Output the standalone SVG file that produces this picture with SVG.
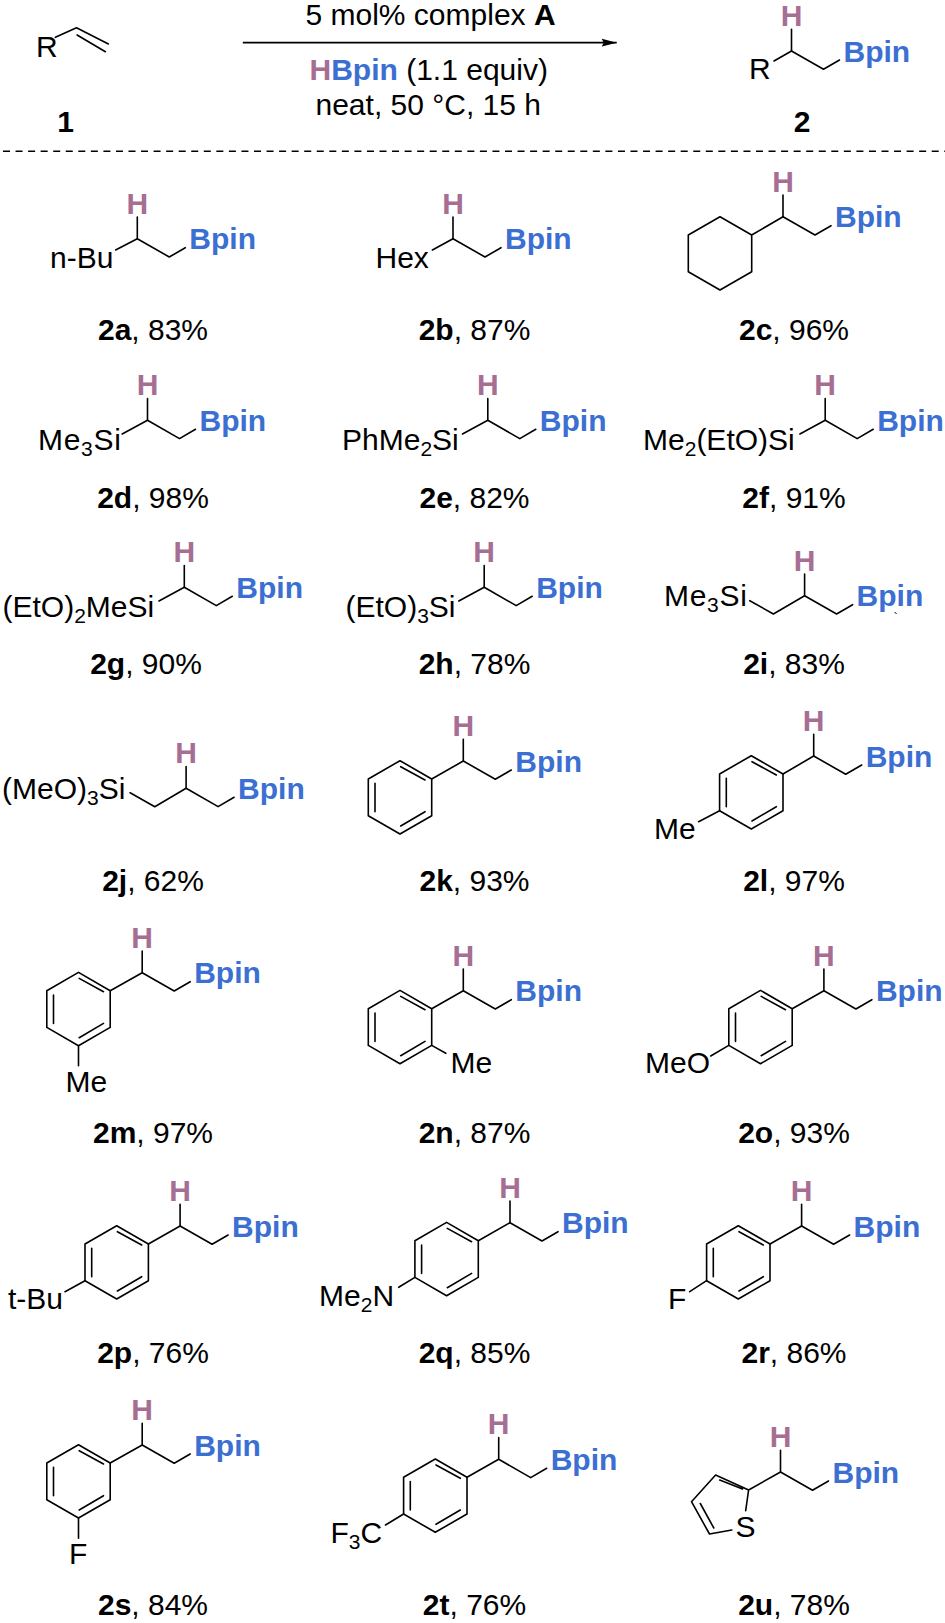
<svg xmlns="http://www.w3.org/2000/svg" width="945" height="1623" viewBox="0 0 945 1623">
<style>
text{font-family:"Liberation Sans",Arial,sans-serif;font-size:30px;fill:#000}
.h{font-weight:700;fill:#A76E93;text-anchor:middle}
.b{font-weight:700;fill:#3B6FD2}
.l{text-anchor:middle}
.w{font-weight:700}
.s{font-size:21px}
.bd,.bd path{fill:none;stroke:#000;stroke-width:1.6;stroke-linecap:round;stroke-linejoin:round}
.ls{letter-spacing:.7px}
</style>
<defs>
<g id="m" class="bd"><path d="M0 0V-21.7M0 0L32 18.3L48 9"/></g>
<g id="ph" class="bd"><path d="M0 0L-31.7 -18.3L-63.4 0V36.7L-31.7 55L0 36.7ZM-6.7 1L-31 -12.3M-56.7 4.3V32.7M-31 47L-6.7 32.7"/></g>
<marker id="ah" markerUnits="userSpaceOnUse" markerWidth="16" markerHeight="10" refX="15" refY="5" orient="auto"><path d="M0 1L15 5L0 9L2 5Z" fill="#000"/></marker>
</defs>

<g id="connectors">
<path d="M242.8 42.7H616.7" fill="none" stroke="#000" stroke-width="1.8" marker-end="url(#ah)"/>
<path d="M3 151.3H945" fill="none" stroke="#000" stroke-width="1.5" stroke-dasharray="7 5.55"/>
</g>

<g id="reaction-conditions">
<text x="305.5" y="24.7">5 mol% complex <tspan class="w">A</tspan></text>
<text x="309.5" y="80"><tspan class="h" style="text-anchor:start">H</tspan><tspan class="b">Bpin</tspan> (1.1 equiv)</text>
<text x="315.5" y="115">neat, 50 °C, 15 h</text>
</g>

<g id="n1">
<path class="bd" d="M55.4 37.3L76.5 27.7L108.4 44M77.1 35L105.4 51.7"/>
<text x="36" y="56.7">R</text>
<text class="l w" x="65.7" y="132">1</text>
</g>

<g id="n2">
<g transform="translate(791.5,51)"><use href="#m"/><text class="h" y="-25">H</text><text class="b" x="52" y="10.6">Bpin</text></g>
<path class="bd" d="M791.5 51L774 61"/>
<text x="749" y="79">R</text>
<text class="l w" x="802" y="132">2</text>
</g>

<g id="n2a">
<g transform="translate(137.3,238.7)"><use href="#m"/><text class="h" y="-25">H</text><text class="b" x="52" y="10.6">Bpin</text></g>
<path class="bd" d="M137.3 238.7L115.6 250"/>
<text x="50" y="268">n-Bu</text>
<text class="l" x="153" y="340"><tspan class="w">2a</tspan>, 83%</text>
</g>

<g id="n2b">
<g transform="translate(453,238.7)"><use href="#m"/><text class="h" y="-25">H</text><text class="b" x="52" y="10.6">Bpin</text></g>
<path class="bd" d="M453 238.7L432.4 250"/>
<text x="375.5" y="268">Hex</text>
<text class="l" x="474.5" y="340"><tspan class="w">2b</tspan>, 87%</text>
</g>

<g id="n2c">
<g transform="translate(783,216.7)"><use href="#m"/><text class="h" y="-25">H</text><text class="b" x="52" y="10.6">Bpin</text></g>
<path class="bd" d="M783 216.7L751.7 235L720 216.7L688.3 235V271.7L720 290L751.7 271.7V235"/>
<text class="l" x="794" y="340"><tspan class="w">2c</tspan>, 96%</text>
</g>

<g id="n2d">
<g transform="translate(147.5,420.3)"><use href="#m"/><text class="h" y="-25">H</text><text class="b" x="52" y="10.6">Bpin</text></g>
<path class="bd" d="M147.5 420.3L122.2 434"/>
<text class="ls" x="38" y="450">Me<tspan class="s" dy="6">3</tspan><tspan dy="-6">Si</tspan></text>
<text class="l" x="153" y="507.7"><tspan class="w">2d</tspan>, 98%</text>
</g>

<g id="n2e">
<g transform="translate(487.8,420.3)"><use href="#m"/><text class="h" y="-25">H</text><text class="b" x="52" y="10.6">Bpin</text></g>
<path class="bd" d="M487.8 420.3L462.5 434"/>
<text x="342" y="450">PhMe<tspan class="s" dy="6">2</tspan><tspan dy="-6">Si</tspan></text>
<text class="l" x="474.5" y="507.7"><tspan class="w">2e</tspan>, 82%</text>
</g>

<g id="n2f">
<g transform="translate(825.2,420.3)"><use href="#m"/><text class="h" y="-25">H</text><text class="b" x="52" y="10.6">Bpin</text></g>
<path class="bd" d="M825.2 420.3L799.9 434"/>
<text x="643" y="450">Me<tspan class="s" dy="6">2</tspan><tspan dy="-6">(EtO)Si</tspan></text>
<text class="l" x="794" y="507.7"><tspan class="w">2f</tspan>, 91%</text>
</g>

<g id="n2g">
<g transform="translate(184.3,587.3)"><use href="#m"/><text class="h" y="-25">H</text><text class="b" x="52" y="10.6">Bpin</text></g>
<path class="bd" d="M184.3 587.3L159 601"/>
<text x="2.5" y="616.7">(EtO)<tspan class="s" dy="6">2</tspan><tspan dy="-6">MeSi</tspan></text>
<text class="l" x="146" y="674"><tspan class="w">2g</tspan>, 90%</text>
</g>

<g id="n2h">
<g transform="translate(484.2,587.3)"><use href="#m"/><text class="h" y="-25">H</text><text class="b" x="52" y="10.6">Bpin</text></g>
<path class="bd" d="M484.2 587.3L458.8 601"/>
<text x="345.5" y="616.7">(EtO)<tspan class="s" dy="6">3</tspan><tspan dy="-6">Si</tspan></text>
<text class="l" x="474.5" y="674"><tspan class="w">2h</tspan>, 78%</text>
</g>

<g id="n2i">
<g transform="translate(804.6,595.7)"><use href="#m"/><text class="h" y="-25">H</text><text class="b" x="52" y="10.6">Bpin</text></g>
<path class="bd" d="M804.6 595.7L773.4 614L749.8 600.7"/>
<path d="M894.6 612L896.6 614" fill="none" stroke="#000" stroke-width="1"/>
<text class="ls" x="664" y="606">Me<tspan class="s" dy="6">3</tspan><tspan dy="-6">Si</tspan></text>
<text class="l" x="794" y="674"><tspan class="w">2i</tspan>, 83%</text>
</g>

<g id="n2j">
<g transform="translate(186.1,788.3)"><use href="#m"/><text class="h" y="-25">H</text><text class="b" x="52" y="10.6">Bpin</text></g>
<path class="bd" d="M186.1 788.3L154.8 806.7L130.1 792.7"/>
<text x="2" y="799">(MeO)<tspan class="s" dy="6">3</tspan><tspan dy="-6">Si</tspan></text>
<text class="l" x="153" y="890.7"><tspan class="w">2j</tspan>, 62%</text>
</g>

<g id="n2k">
<g transform="translate(463.3,761)"><use href="#m"/><text class="h" y="-25">H</text><text class="b" x="52" y="10.6">Bpin</text></g>
<path class="bd" d="M463.3 761L431.7 779"/>
<use href="#ph" x="431.7" y="779"/>
<text class="l" x="474.5" y="890.7"><tspan class="w">2k</tspan>, 93%</text>
</g>

<g id="n2l">
<g transform="translate(813.7,756)"><use href="#m"/><text class="h" y="-25">H</text><text class="b" x="52" y="10.6">Bpin</text></g>
<path class="bd" d="M813.7 756L783 774M719.6 810.7L698.6 821.7"/>
<use href="#ph" x="783" y="774"/>
<text x="654" y="838.7">Me</text>
<text class="l" x="794" y="890.7"><tspan class="w">2l</tspan>, 97%</text>
</g>

<g id="n2m">
<g transform="translate(142.2,972.7)"><use href="#m"/><text class="h" y="-25">H</text><text class="b" x="52" y="10.6">Bpin</text></g>
<path class="bd" d="M142.2 972.7L110.2 990.7M78.5 1045.7V1065.7"/>
<use href="#ph" x="110.2" y="990.7"/>
<text x="65.5" y="1091.7">Me</text>
<text class="l" x="153" y="1142.7"><tspan class="w">2m</tspan>, 97%</text>
</g>

<g id="n2n">
<g transform="translate(463.3,990.7)"><use href="#m"/><text class="h" y="-25">H</text><text class="b" x="52" y="10.6">Bpin</text></g>
<path class="bd" d="M463.3 990.7L431.7 1008.7M431.7 1045.4L445.8 1053.3"/>
<use href="#ph" x="431.7" y="1008.7"/>
<text x="450.5" y="1073.3">Me</text>
<text class="l" x="474.5" y="1142.7"><tspan class="w">2n</tspan>, 87%</text>
</g>

<g id="n2o">
<g transform="translate(823.9,990.7)"><use href="#m"/><text class="h" y="-25">H</text><text class="b" x="52" y="10.6">Bpin</text></g>
<path class="bd" d="M823.9 990.7L792.2 1008.7M728.8 1045.4L710.7 1056"/>
<use href="#ph" x="792.2" y="1008.7"/>
<text x="645" y="1073.3">MeO</text>
<text class="l" x="794" y="1142.7"><tspan class="w">2o</tspan>, 93%</text>
</g>

<g id="n2p">
<g transform="translate(180.1,1226)"><use href="#m"/><text class="h" y="-25">H</text><text class="b" x="52" y="10.6">Bpin</text></g>
<path class="bd" d="M180.1 1226L148.4 1244M85 1280.7L65 1291.7"/>
<use href="#ph" x="148.4" y="1244"/>
<text x="8" y="1308.7">t-Bu</text>
<text class="l" x="153" y="1363"><tspan class="w">2p</tspan>, 76%</text>
</g>

<g id="n2q">
<g transform="translate(510,1222.7)"><use href="#m"/><text class="h" y="-25">H</text><text class="b" x="52" y="10.6">Bpin</text></g>
<path class="bd" d="M510 1222.7L478.3 1240.7M414.9 1277.4L398.7 1287.3"/>
<use href="#ph" x="478.3" y="1240.7"/>
<text x="319" y="1306">Me<tspan class="s" dy="6">2</tspan><tspan dy="-6">N</tspan></text>
<text class="l" x="474.5" y="1363"><tspan class="w">2q</tspan>, 85%</text>
</g>

<g id="n2r">
<g transform="translate(801.6,1226)"><use href="#m"/><text class="h" y="-25">H</text><text class="b" x="52" y="10.6">Bpin</text></g>
<path class="bd" d="M801.6 1226L770 1244M706.6 1280.7L689.7 1291.7"/>
<use href="#ph" x="770" y="1244"/>
<text x="668" y="1308.7">F</text>
<text class="l" x="794" y="1363"><tspan class="w">2r</tspan>, 86%</text>
</g>

<g id="n2s">
<g transform="translate(142.2,1445)"><use href="#m"/><text class="h" y="-25">H</text><text class="b" x="52" y="10.6">Bpin</text></g>
<path class="bd" d="M142.2 1445L110.2 1463M78.5 1518V1538.3"/>
<use href="#ph" x="110.2" y="1463"/>
<text x="69" y="1564">F</text>
<text class="l" x="153" y="1615"><tspan class="w">2s</tspan>, 84%</text>
</g>

<g id="n2t">
<g transform="translate(498.7,1459.3)"><use href="#m"/><text class="h" y="-25">H</text><text class="b" x="52" y="10.6">Bpin</text></g>
<path class="bd" d="M498.7 1459.3L467 1477.3M403.6 1514L385.5 1525"/>
<use href="#ph" x="467" y="1477.3"/>
<text x="330.5" y="1542.7">F<tspan class="s" dy="6">3</tspan><tspan dy="-6">C</tspan></text>
<text class="l" x="474.5" y="1615"><tspan class="w">2t</tspan>, 76%</text>
</g>

<g id="n2u">
<g transform="translate(780.5,1472)"><use href="#m"/><text class="h" y="-25">H</text><text class="b" x="52" y="10.6">Bpin</text></g>
<path class="bd" d="M780.5 1472L748.6 1490L715.6 1475L691.5 1501.7L709.5 1534L731.8 1530M748.6 1490L745.7 1510.7M719.7 1480L742.5 1489M700.3 1503.5L713.8 1528"/>
<text x="735.5" y="1536.7">S</text>
<text class="l" x="794" y="1615"><tspan class="w">2u</tspan>, 78%</text>
</g>
</svg>
